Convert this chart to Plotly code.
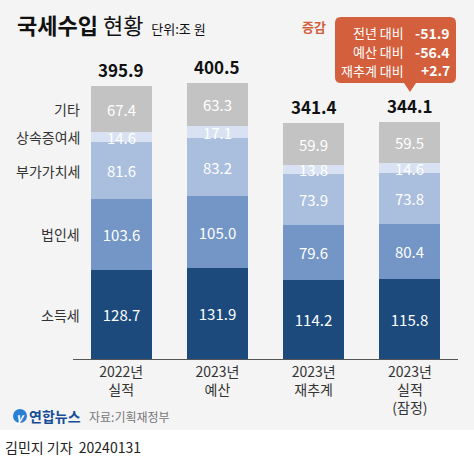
import plotly.graph_objects as go

categories = ["2022년<br>실적", "2023년<br>예산", "2023년<br>재추계", "2023년<br>실적<br>(잠정)"]
series_names = ["소득세", "법인세", "부가가치세", "상속증여세", "기타"]
income_tax = [128.7, 131.9, 114.2, 115.8]
corporate_tax = [103.6, 105.0, 79.6, 80.4]
vat = [81.6, 83.2, 73.9, 73.8]
inheritance_tax = [14.6, 17.1, 13.8, 14.6]
other = [67.4, 63.3, 59.9, 59.5]
totals = [395.9, 400.5, 341.4, 344.1]
change_labels = ["전년 대비", "예산 대비", "재추계 대비"]
change_values = ["-51.9", "-56.4", "+2.7"]

colors = ["#1c4a7c", "#7396c6", "#aabede", "#d8e2f3", "#c3c3c3"]
series = [income_tax, corporate_tax, vat, inheritance_tax, other]

W, H = 474, 461
L, R, T, B = 73, 16, 69, 102
PW, PH = W - L - R, H - T - B
FONT = "Noto Sans CJK KR"

def px(x):
    return (x - L) / PW

def py(y):
    return (H - B - y) / PH

fig = go.Figure()
for name, vals, col in zip(series_names, series, colors):
    fig.add_trace(go.Bar(
        x=list(range(len(categories))), y=vals, name=name,
        marker=dict(color=col, line=dict(width=0)),
        width=0.635,
        text=[f"{v:.1f}" for v in vals],
        textposition="inside", insidetextanchor="middle",
        constraintext="none",
        textfont=dict(color="white", size=15, family=FONT),
        cliponaxis=False,
        hoverinfo="skip",
    ))

ann = []
# totals
for i, t in enumerate(totals):
    ann.append(dict(x=i, y=t, xref="x", yref="y", text=f"<b>{t:.1f}</b>",
                    showarrow=False, yanchor="bottom", yshift=2,
                    font=dict(size=17, color="#111", family=FONT)))
# series labels beside first bar
cum = 0
for name, vals in zip(series_names, series):
    mid = cum + vals[0] / 2
    cum += vals[0]
    ann.append(dict(x=px(82), y=mid, xref="paper", yref="y", text=name,
                    xanchor="right", showarrow=False,
                    font=dict(size=14, color="#333", family=FONT)))
# title
ann.append(dict(x=px(15), y=py(24), xref="paper", yref="paper", xanchor="left", yanchor="middle",
                text="<b>국세수입</b> 현황 <span style='font-size:13px'> 단위:조 원</span>",
                showarrow=False, font=dict(size=22, color="#111", family=FONT)))
# 증감
ann.append(dict(x=px(328), y=py(27), xref="paper", yref="paper", xanchor="right", yanchor="middle",
                text="<b>증감</b>", showarrow=False, font=dict(size=13, color="#d35f3c", family=FONT)))
for k, (lab, val) in enumerate(zip(change_labels, change_values)):
    yy = py(33 + k * 18.5)
    ann.append(dict(x=px(406), y=yy, xref="paper", yref="paper", xanchor="right", yanchor="middle",
                    text=lab, showarrow=False, font=dict(size=13, color="white", family=FONT)))
    ann.append(dict(x=px(452), y=yy, xref="paper", yref="paper", xanchor="right", yanchor="middle",
                    text=f"<b>{val}</b>", showarrow=False, font=dict(size=14, color="white", family=FONT)))
# footer
ann.append(dict(x=px(20), y=py(416), xref="paper", yref="paper", xanchor="center", yanchor="middle",
                text="<b><i>y</i></b>", showarrow=False, font=dict(size=12, color="white", family=FONT)))
ann.append(dict(x=px(27), y=py(416), xref="paper", yref="paper", xanchor="left", yanchor="middle",
                text="<b>연합뉴스</b>", showarrow=False, font=dict(size=14, color="#174d96", family=FONT)))
ann.append(dict(x=px(87), y=py(416), xref="paper", yref="paper", xanchor="left", yanchor="middle",
                text="자료:기획재정부", showarrow=False, font=dict(size=12, color="#777", family=FONT)))
ann.append(dict(x=px(3), y=py(447), xref="paper", yref="paper", xanchor="left", yanchor="middle",
                text="김민지 기자  20240131", showarrow=False, font=dict(size=14, color="#222", family=FONT)))

shapes = [
    dict(type="rect", xref="paper", yref="paper", x0=px(0), x1=px(W), y0=py(430), y1=py(0),
         fillcolor="#f4f4f4", line=dict(width=0), layer="below"),
    dict(type="circle", xref="paper", yref="paper", x0=px(13), x1=px(27), y0=py(423), y1=py(409),
         fillcolor="#2a7fd4", line=dict(width=0)),
]
# callout box in pixel-based paper coords
bx0, bx1, by0, by1 = 335, 456, 17, 83
def P(x, y):
    return f"{px(x):.5f},{py(y):.5f}"
r = 6
path = (f"M{P(bx0+r,by0)} L{P(bx1-r,by0)} Q{P(bx1,by0)} {P(bx1,by0+r)} L{P(bx1,by1-r)} "
        f"Q{P(bx1,by1)} {P(bx1-r,by1)} L{P(416,by1)} L{P(410,92)} L{P(404,by1)} L{P(bx0+r,by1)} "
        f"Q{P(bx0,by1)} {P(bx0,by1-r)} L{P(bx0,by0+r)} Q{P(bx0,by0)} {P(bx0+r,by0)} Z")
shapes.append(dict(type="path", xref="paper", yref="paper", path=path,
                   fillcolor="#d35f3c", line=dict(width=0), layer="below"))

fig.update_layout(
    width=W, height=H,
    margin=dict(l=L, r=R, t=T, b=B),
    barmode="stack", bargap=0,
    paper_bgcolor="white", plot_bgcolor="rgba(0,0,0,0)",
    showlegend=False,
    font=dict(family=FONT),
    xaxis=dict(range=[-0.5, 3.5], tickvals=list(range(4)), ticktext=categories,
               showline=True, linecolor="#555", linewidth=1, showgrid=False,
               zeroline=False, ticks="", tickfont=dict(size=14, color="#333", family=FONT),
               fixedrange=True),
    yaxis=dict(range=[0, PH / 0.69], visible=False, fixedrange=True),
    annotations=ann, shapes=shapes,
)
fig.write_html("out.html", config={"displayModeBar": False},
               post_script="document.body.style.margin='0';document.body.style.overflow='hidden';")
